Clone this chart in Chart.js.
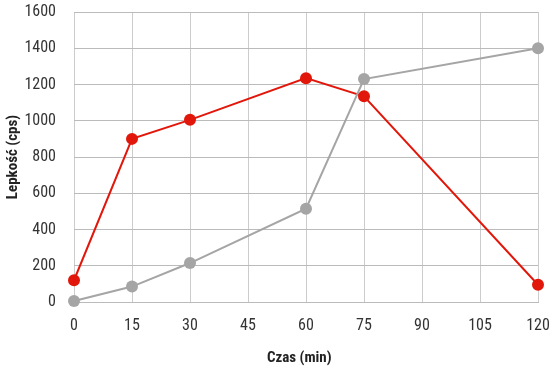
<!DOCTYPE html>
<html>
<head>
<meta charset="utf-8">
<script src="https://cdn.jsdelivr.net/npm/chart.js@4"></script>
<style>
  html, body { margin: 0; padding: 0; background: #fff; }
  #wrap { width: 550px; height: 367px; }
</style>
</head>
<body>
<div id="wrap"><canvas id="chart"></canvas></div>
<script>
const timeMin = [0, 15, 30, 60, 75, 120];
const seriesRed = [120, 900, 1005, 1235, 1135, 95];
const seriesGray = [5, 85, 215, 515, 1230, 1400];
const xTicks = [0, 15, 30, 45, 60, 75, 90, 105, 120];
const yTicks = [0, 200, 400, 600, 800, 1000, 1200, 1400, 1600];

const fontFamily = '"Roboto Condensed", "Liberation Sans Narrow", Roboto, sans-serif';

function toPoints(xs, ys) {
    return xs.map((x, i) => ({ x: x, y: ys[i] }));
}

document.addEventListener('DOMContentLoaded', function() {
    const ctx = document.getElementById('chart');
    new Chart(ctx, {
        type: 'line',
        data: {
            datasets: [
                {
                    data: toPoints(timeMin, seriesGray),
                    borderColor: '#a5a5a5',
                    backgroundColor: '#a5a5a5',
                    borderWidth: 2,
                    pointRadius: 6,
                    pointBorderWidth: 0,
                    tension: 0,
                    clip: false
                },
                {
                    data: toPoints(timeMin, seriesRed),
                    borderColor: '#e2170b',
                    backgroundColor: '#e2170b',
                    borderWidth: 2,
                    pointRadius: 6,
                    pointBorderWidth: 0,
                    tension: 0,
                    clip: false
                }
            ]
        },
        options: {
            responsive: true,
            maintainAspectRatio: false,
            animation: false,
            layout: { padding: { top: 12, right: 12, left: 0, bottom: 0 } },
            plugins: {
                legend: { display: false },
                tooltip: { enabled: false }
            },
            scales: {
                x: {
                    type: 'linear',
                    min: 0,
                    max: 120,
                    afterBuildTicks: function(axis) {
                        axis.ticks = xTicks.map(v => ({ value: v }));
                    },
                    afterFit: function(axis) {
                        axis.height = 65;
                        axis.paddingLeft = 0;
                        axis.paddingRight = 0;
                    },
                    grid: { color: '#cccccc', lineWidth: 1, drawTicks: false },
                    border: { color: '#bbbbbb' },
                    ticks: {
                        color: '#333333',
                        padding: 14,
                        callback: v => String(v),
                        font: { family: fontFamily, size: 16 }
                    },
                    title: {
                        display: true,
                        // trailing en spaces nudge the centred title a little left, like the original
                        text: 'Czas (min)\u2002\u2002',
                        color: '#222222',
                        padding: { top: 14, bottom: 0 },
                        font: { family: fontFamily, size: 15, weight: 'bold' }
                    }
                },
                y: {
                    min: 0,
                    max: 1600,
                    afterBuildTicks: function(axis) {
                        axis.ticks = yTicks.map(v => ({ value: v }));
                    },
                    afterFit: function(axis) {
                        axis.width = 74;
                        axis.paddingTop = 0;
                        axis.paddingBottom = 0;
                    },
                    grid: { color: '#bbbbbb', lineWidth: 1, drawTicks: false },
                    border: { display: false },
                    ticks: {
                        color: '#333333',
                        padding: 18,
                        callback: v => String(v),
                        font: { family: fontFamily, size: 16 }
                    },
                    title: {
                        display: true,
                        text: 'Lepkość (cps)',
                        color: '#222222',
                        padding: { bottom: 4 },
                        font: { family: fontFamily, size: 15, weight: 'bold' }
                    }
                }
            }
        }
    });
});
</script>
</body>
</html>
